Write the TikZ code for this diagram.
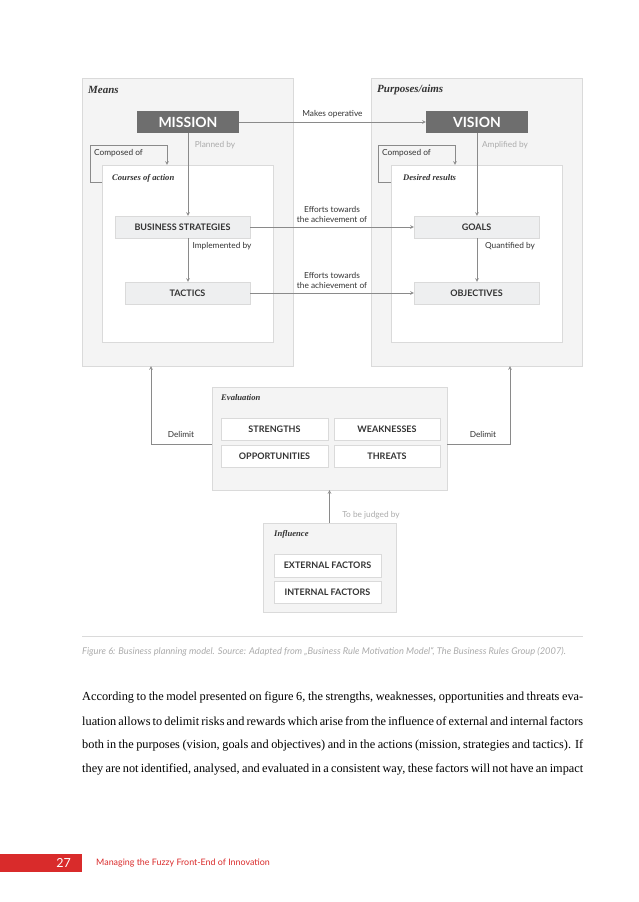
\documentclass[tikz,border=0pt]{standalone}
\usepackage{fontspec}
\setmainfont{Liberation Serif}
\setsansfont{Lato}
\usetikzlibrary{arrows,positioning}

\definecolor{panelgray}{HTML}{F4F4F4}
\definecolor{linegray}{HTML}{DADADA}
\definecolor{darkgray}{HTML}{6E6E6E}
\definecolor{cellgray}{HTML}{EEEFF0}
\definecolor{arrowgray}{HTML}{8A8A8A}
\definecolor{labelgray}{HTML}{ABABAB}
\definecolor{textgray}{HTML}{333333}
\definecolor{footred}{HTML}{D92B2B}

\tikzset{
  panel/.style={draw=linegray, fill=panelgray, inner sep=0pt},
  inner/.style={draw=linegray, fill=white, inner sep=0pt},
  headbox/.style={fill=darkgray, text=white, inner sep=0pt, minimum width=102pt, minimum height=22pt, font=\sffamily\bfseries\fontsize{14}{16}\selectfont},
  cell/.style={draw=linegray, fill=cellgray, inner sep=0pt, minimum height=22pt, text=textgray, font=\sffamily\bfseries\fontsize{9}{11}\selectfont},
  wcell/.style={draw=linegray, fill=white, inner sep=0pt, minimum height=22pt, text=textgray, font=\sffamily\bfseries\fontsize{9}{11}\selectfont},
  title/.style={anchor=west, inner sep=0pt, text=textgray, font=\bfseries\itshape\fontsize{11}{13}\selectfont},
  subtitle/.style={anchor=west, inner sep=0pt, text=textgray, font=\bfseries\itshape\fontsize{8.6}{10}\selectfont},
  lbl/.style={inner sep=0pt, text=textgray, font=\sffamily\fontsize{8.3}{10}\selectfont},
  pale/.style={inner sep=0pt, text=labelgray, font=\sffamily\fontsize{8.3}{10}\selectfont},
  conn/.style={->, >=stealth, arrowgray, line width=0.6pt}
}

\begin{document}
\begin{tikzpicture}[x=1pt, y=-1pt]
\useasboundingbox (0,0) rectangle (638,902);

% means and purposes panels
\node (means) [panel, minimum width=211pt, minimum height=288pt] at (187.5,222) {};
\node (aims) [panel, minimum width=211pt, minimum height=288pt] at (476.5,222) {};
\node (meanstitle) [title] at (88,90) {Means};
\node (aimstitle) [title] at (377,90) {Purposes/aims};

\node (courses) [inner, minimum width=171pt, minimum height=177pt] at (187.5,253.5) {};
\node (results) [inner, minimum width=171pt, minimum height=177pt] at (476.5,253.5) {};
\node (coursestitle) [subtitle] at (112,178) {Courses of action};
\node (resultstitle) [subtitle] at (403,178) {Desired results};

\node (mission) [headbox] at (188,122) {MISSION};
\node (vision) [headbox] at (477,122) {VISION};

\node (strategies) [cell, minimum width=135pt] at (182.5,227) {BUSINESS STRATEGIES};
\node (tactics) [cell, minimum width=125pt] at (187.5,293) {TACTICS};
\node (goals) [cell, minimum width=125pt] at (476.5,227) {GOALS};
\node (objectives) [cell, minimum width=125pt] at (476.5,293) {OBJECTIVES};

% links inside the panels
\draw [conn] (mission.east) -- (vision.west) node (makes) [lbl, above=4pt, midway] {Makes operative};
\draw [conn] (mission.south) -- (mission.south |- strategies.north);
\draw [conn] (mission.south |- strategies.south) -- (mission.south |- tactics.north);
\draw [conn] (vision.south) -- (vision.south |- goals.north);
\draw [conn] (vision.south |- goals.south) -- (vision.south |- objectives.north);
\draw [conn] (strategies.east) -- (goals.west) node (efforts1) [lbl, above=4pt, midway, align=center] {Efforts towards\\the achievement of};
\draw [conn] (tactics.east) -- (objectives.west) node (efforts2) [lbl, above=4pt, midway, align=center] {Efforts towards\\the achievement of};

\node (planned) [pale] at (215,145) {Planned by};
\node (amplified) [pale] at (505,145) {Amplified by};
\node (implemented) [lbl] at (222,246) {Implemented by};
\node (quantified) [lbl] at (510,246) {Quantified by};

% composed of brackets
\coordinate (compL) at (102,182);
\coordinate (compR) at (391,182);
\draw [conn] (compL) -- (90,182) |- (167,145) -- (courses.north -| 167,0);
\draw [conn] (compR) -- (378,182) |- (455,145) -- (results.north -| 455,0);
\node (composedL) [lbl, anchor=west] at (94,153) {Composed of};
\node (composedR) [lbl, anchor=west] at (382,153) {Composed of};

% evaluation
\node (evaluation) [panel, minimum width=235pt, minimum height=103pt] at (329.5,438.5) {};
\node (evaltitle) [subtitle] at (221,398) {Evaluation};
\node (strengths) [wcell, minimum width=107pt] at (274.5,429) {STRENGTHS};
\node (weaknesses) [wcell, minimum width=106pt] at (387,429) {WEAKNESSES};
\node (opportunities) [wcell, minimum width=107pt] at (274.5,456) {OPPORTUNITIES};
\node (threats) [wcell, minimum width=106pt] at (387,456) {THREATS};

\draw [conn] ([yshift=-5.5pt]evaluation.west) -| (means.south -| 151,0);
\draw [conn] ([yshift=-5.5pt]evaluation.east) -| (aims.south -| 510,0);
\node (delimitL) [lbl] at (181,434) {Delimit};
\node (delimitR) [lbl] at (483,434) {Delimit};

% influence
\node (influence) [panel, minimum width=133pt, minimum height=89pt] at (329.5,567.5) {};
\node (inflytitle) [subtitle] at (274,534) {Influence};
\node (external) [wcell, minimum width=107pt, minimum height=23pt] at (327.5,565.5) {EXTERNAL FACTORS};
\node (internal) [wcell, minimum width=107pt] at (327.5,592) {INTERNAL FACTORS};
\draw [conn] (influence.north) -- (evaluation.south);
\node (judged) [pale] at (371,515) {To be judged by};

% caption and text
\draw [linegray] (82,636) -- (583,636);
\node (caption) [anchor=west, inner sep=0pt, text=labelgray, font=\sffamily\itshape\fontsize{9.3}{11}\selectfont] at (82,652)
  {Figure 6: Business planning model. Source: Adapted from „Business Rule Motivation Model“, The Business Rules Group (2007).};

\node (line1) [anchor=west, inner sep=0pt, font=\fontsize{12.3}{14}\selectfont] at (82,697)
  {\makebox[501pt][s]{According to the model presented on figure 6, the strengths, weaknesses, opportunities and threats eva-}};
\node (line2) [anchor=west, inner sep=0pt, font=\fontsize{12.3}{14}\selectfont] at (82,721)
  {\makebox[501pt][s]{luation allows to delimit risks and rewards which arise from the influence of external and internal factors}};
\node (line3) [anchor=west, inner sep=0pt, font=\fontsize{12.3}{14}\selectfont] at (82,745)
  {\makebox[501pt][s]{both in the purposes (vision, goals and objectives) and in the actions (mission, strategies and tactics). If}};
\node (line4) [anchor=west, inner sep=0pt, font=\fontsize{12.3}{14}\selectfont] at (82,769)
  {\makebox[501pt][s]{they are not identified, analysed, and evaluated in a consistent way, these factors will not have an impact}};

% footer
\node (footbar) [fill=footred, inner sep=0pt, minimum width=82pt, minimum height=18pt] at (41,863) {};
\node (pagenum) [text=white, inner sep=0pt, anchor=east, font=\sffamily\fontsize{12.5}{14}\selectfont] at (71,863) {27};
\node (foottext) [text=footred, inner sep=0pt, anchor=west, font=\sffamily\fontsize{8.9}{10}\selectfont] at (96,863) {Managing the Fuzzy Front-End of Innovation};

\end{tikzpicture}
\end{document}
